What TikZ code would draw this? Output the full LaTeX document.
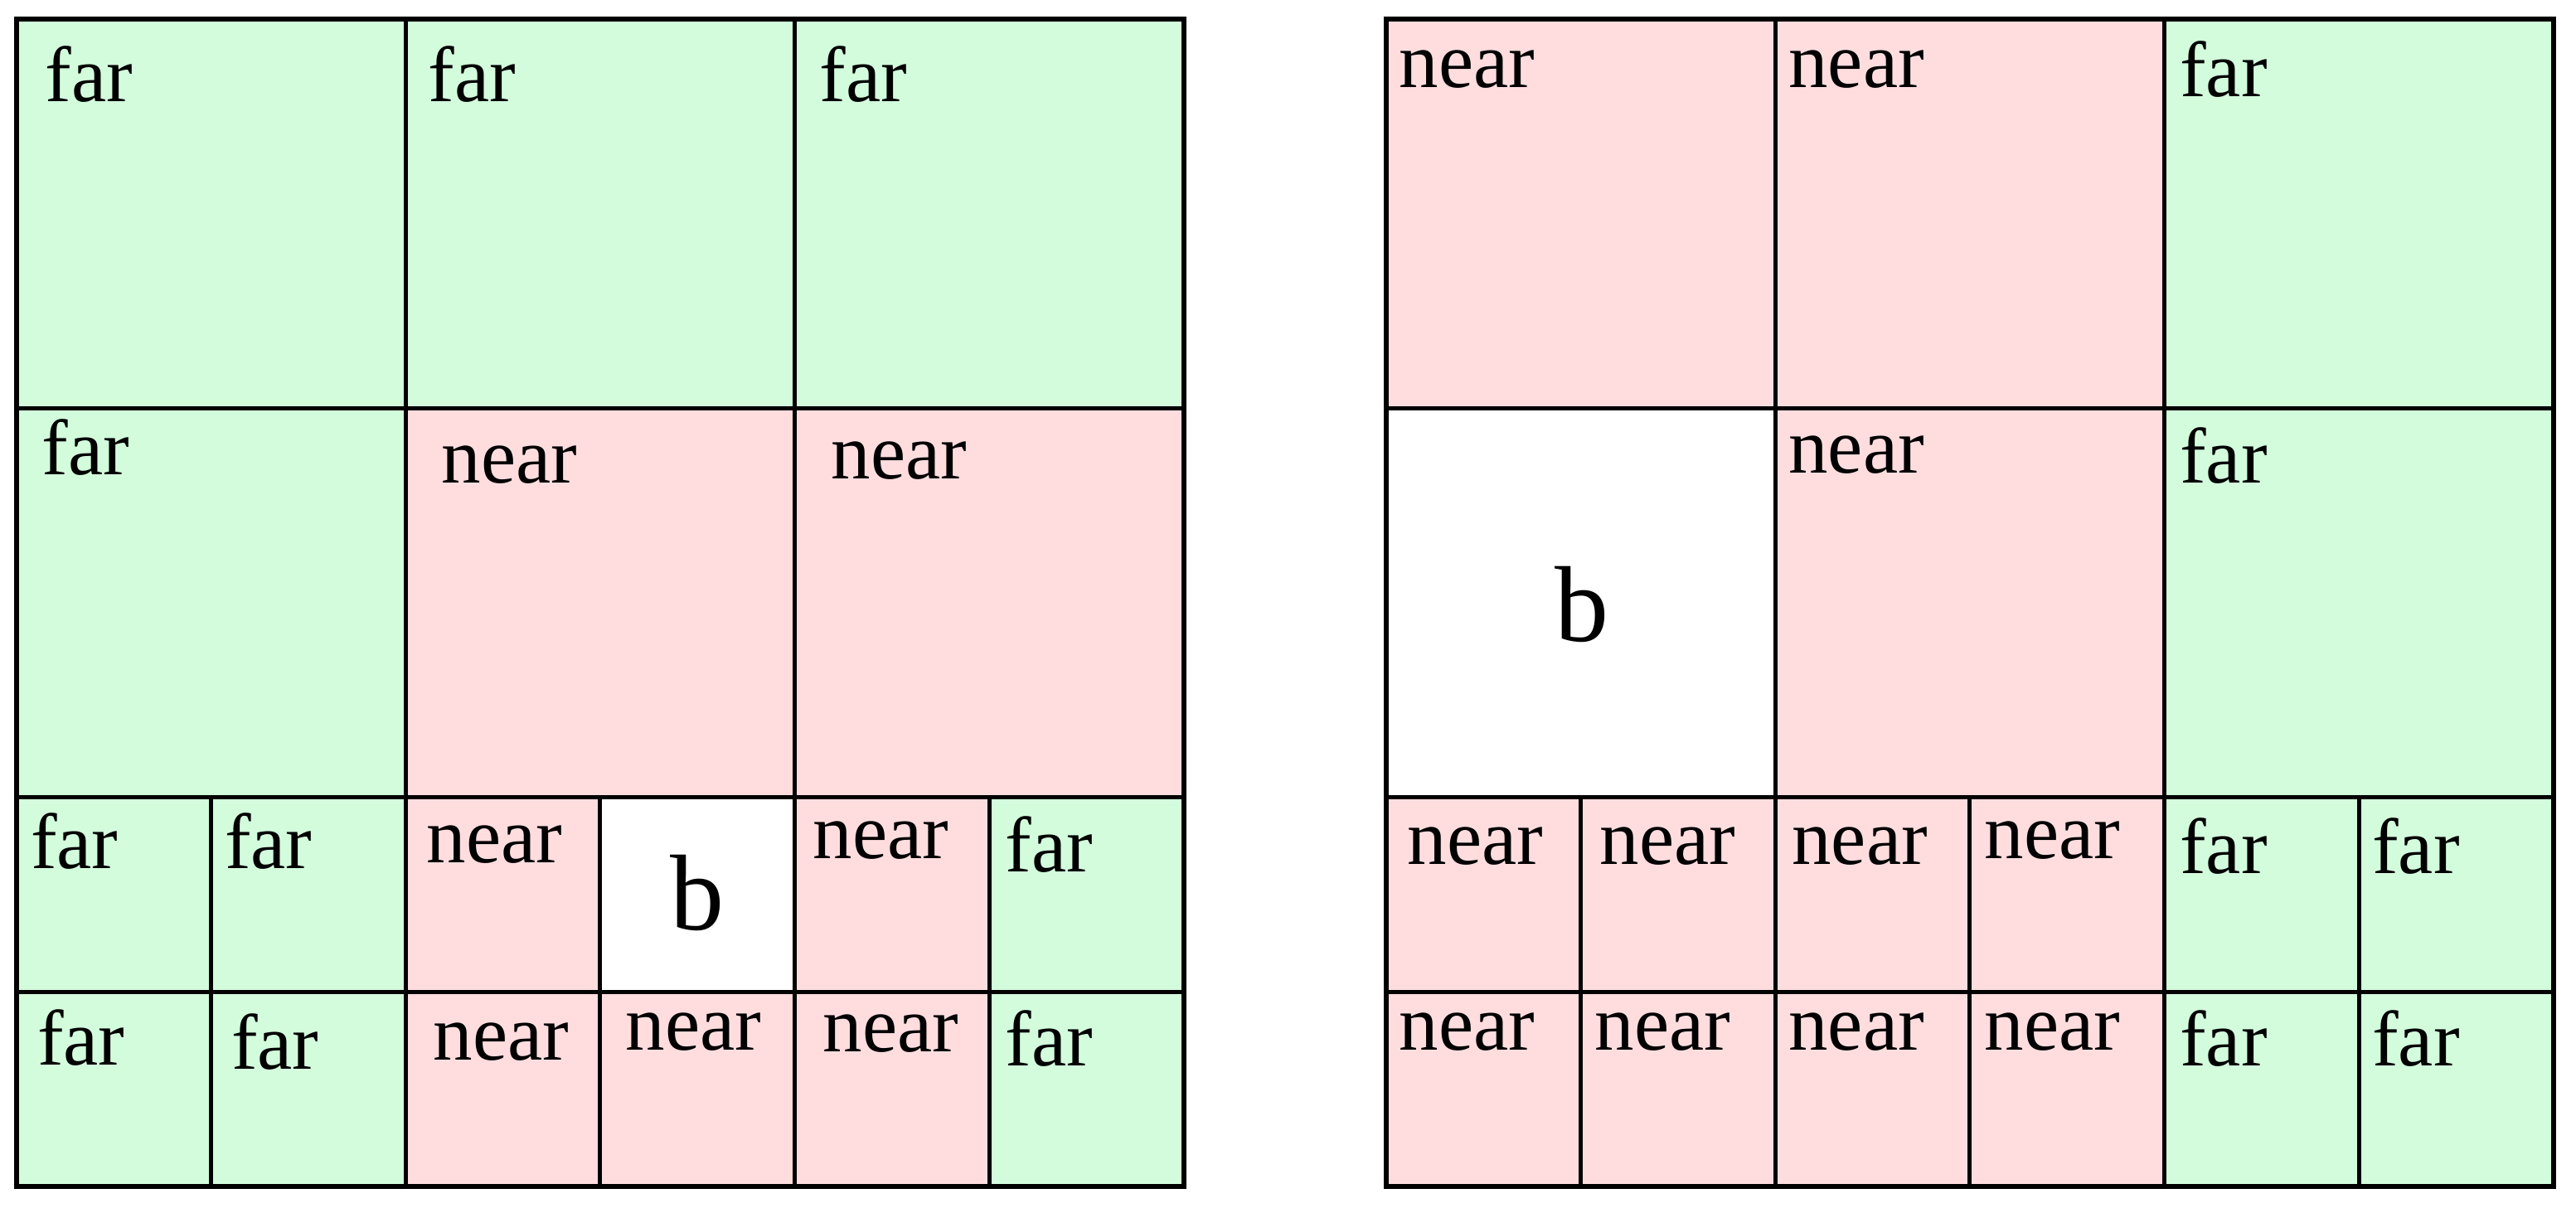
\documentclass[tikz,border=0pt]{standalone}
\usepackage{fontspec}
\setmainfont{Liberation Serif}
\usepackage{tikz}
\usetikzlibrary{positioning}

\definecolor{fargreen}{RGB}{211,252,221}
\definecolor{nearpink}{RGB}{255,221,223}

\begin{document}
\begin{tikzpicture}[x=0.0099075cm, y=-0.0099075cm,
  farcell/.style={fill=fargreen, draw=black, line width=0.7pt},
  nearcell/.style={fill=nearpink, draw=black, line width=0.7pt},
  bcell/.style={fill=white, draw=black, line width=0.7pt},
  lbl/.style={anchor=west, inner sep=0pt, font=\fontsize{13.5}{15}\selectfont},
  blbl/.style={inner sep=0pt, font=\fontsize{18.5}{20}\selectfont}]
\useasboundingbox (0,0) rectangle (1568,738);

% left grid, b in a small cell
\begin{scope}[shift={(10.1,11.6)}, x=1.17256cm, y=-1.17256cm]
  % large cells
  \path[farcell] (0,0) rectangle (2,2);
  \path[farcell] (2,0) rectangle (4,2);
  \path[farcell] (4,0) rectangle (6,2);
  \path[farcell] (0,2) rectangle (2,4);
  \path[nearcell] (2,2) rectangle (4,4);
  \path[nearcell] (4,2) rectangle (6,4);
  % small cells
  \path[farcell] (0,4) rectangle (1,5);
  \path[farcell] (1,4) rectangle (2,5);
  \path[nearcell] (2,4) rectangle (3,5);
  \path[bcell] (3,4) rectangle (4,5);
  \path[nearcell] (4,4) rectangle (5,5);
  \path[farcell] (5,4) rectangle (6,5);
  \path[farcell] (0,5) rectangle (1,6);
  \path[farcell] (1,5) rectangle (2,6);
  \path[nearcell] (2,5) rectangle (3,6);
  \path[nearcell] (3,5) rectangle (4,6);
  \path[nearcell] (4,5) rectangle (5,6);
  \path[farcell] (5,5) rectangle (6,6);
  \draw[line width=0.9pt] (0,0) rectangle (6,6);

  % labels
  \node[lbl] (l11) at (0.143,0.282) {far};
  \node[lbl] (l12) at (2.112,0.282) {far};
  \node[lbl] (l13) at (4.123,0.282) {far};
  \node[lbl] (l21) at (0.126,2.200) {far};
  \node[lbl] (l22) at (2.179,2.293) {near};
  \node[lbl] (l23) at (4.182,2.268) {near};
  \node[lbl] (l31) at (0.067,4.228) {far};
  \node[lbl] (l32) at (1.064,4.228) {far};
  \node[lbl] (l33) at (2.103,4.245) {near};
  \node[blbl] (lb) at (3.497,4.490) {b};
  \node[lbl] (l35) at (4.089,4.220) {near};
  \node[lbl] (l36) at (5.077,4.245) {far};
  \node[lbl] (l41) at (0.101,5.234) {far};
  \node[lbl] (l42) at (1.098,5.259) {far};
  \node[lbl] (l43) at (2.137,5.259) {near};
  \node[lbl] (l44) at (3.126,5.208) {near};
  \node[lbl] (l45) at (4.139,5.217) {near};
  \node[lbl] (l46) at (5.077,5.242) {far};
\end{scope}

% right grid, b in a large cell
\begin{scope}[shift={(843.8,11.6)}, x=1.17256cm, y=-1.17256cm]
  % large cells
  \path[nearcell] (0,0) rectangle (2,2);
  \path[nearcell] (2,0) rectangle (4,2);
  \path[farcell] (4,0) rectangle (6,2);
  \path[bcell] (0,2) rectangle (2,4);
  \path[nearcell] (2,2) rectangle (4,4);
  \path[farcell] (4,2) rectangle (6,4);
  % small cells
  \path[nearcell] (0,4) rectangle (1,5);
  \path[nearcell] (1,4) rectangle (2,5);
  \path[nearcell] (2,4) rectangle (3,5);
  \path[nearcell] (3,4) rectangle (4,5);
  \path[farcell] (4,4) rectangle (5,5);
  \path[farcell] (5,4) rectangle (6,5);
  \path[nearcell] (0,5) rectangle (1,6);
  \path[nearcell] (1,5) rectangle (2,6);
  \path[nearcell] (2,5) rectangle (3,6);
  \path[nearcell] (3,5) rectangle (4,6);
  \path[farcell] (4,5) rectangle (5,6);
  \path[farcell] (5,5) rectangle (6,6);
  \draw[line width=0.9pt] (0,0) rectangle (6,6);

  % labels
  \node[lbl] (r11) at (0.061,0.257) {near};
  \node[lbl] (r12) at (2.063,0.257) {near};
  \node[lbl] (r13) at (4.074,0.257) {far};
  \node[blbl] (rb) at (1.007,3.011) {b};
  \node[lbl] (r22) at (2.063,2.242) {near};
  \node[lbl] (r23) at (4.074,2.242) {far};
  \node[lbl] (r31) at (0.103,4.253) {near};
  \node[lbl] (r32) at (1.092,4.253) {near};
  \node[lbl] (r33) at (2.080,4.253) {near};
  \node[lbl] (r34) at (3.070,4.220) {near};
  \node[lbl] (r35) at (4.074,4.253) {far};
  \node[lbl] (r36) at (5.063,4.253) {far};
  \node[lbl] (r41) at (0.061,5.208) {near};
  \node[lbl] (r42) at (1.066,5.208) {near};
  \node[lbl] (r43) at (2.063,5.208) {near};
  \node[lbl] (r44) at (3.070,5.208) {near};
  \node[lbl] (r45) at (4.074,5.242) {far};
  \node[lbl] (r46) at (5.063,5.242) {far};
\end{scope}
\end{tikzpicture}
\end{document}
